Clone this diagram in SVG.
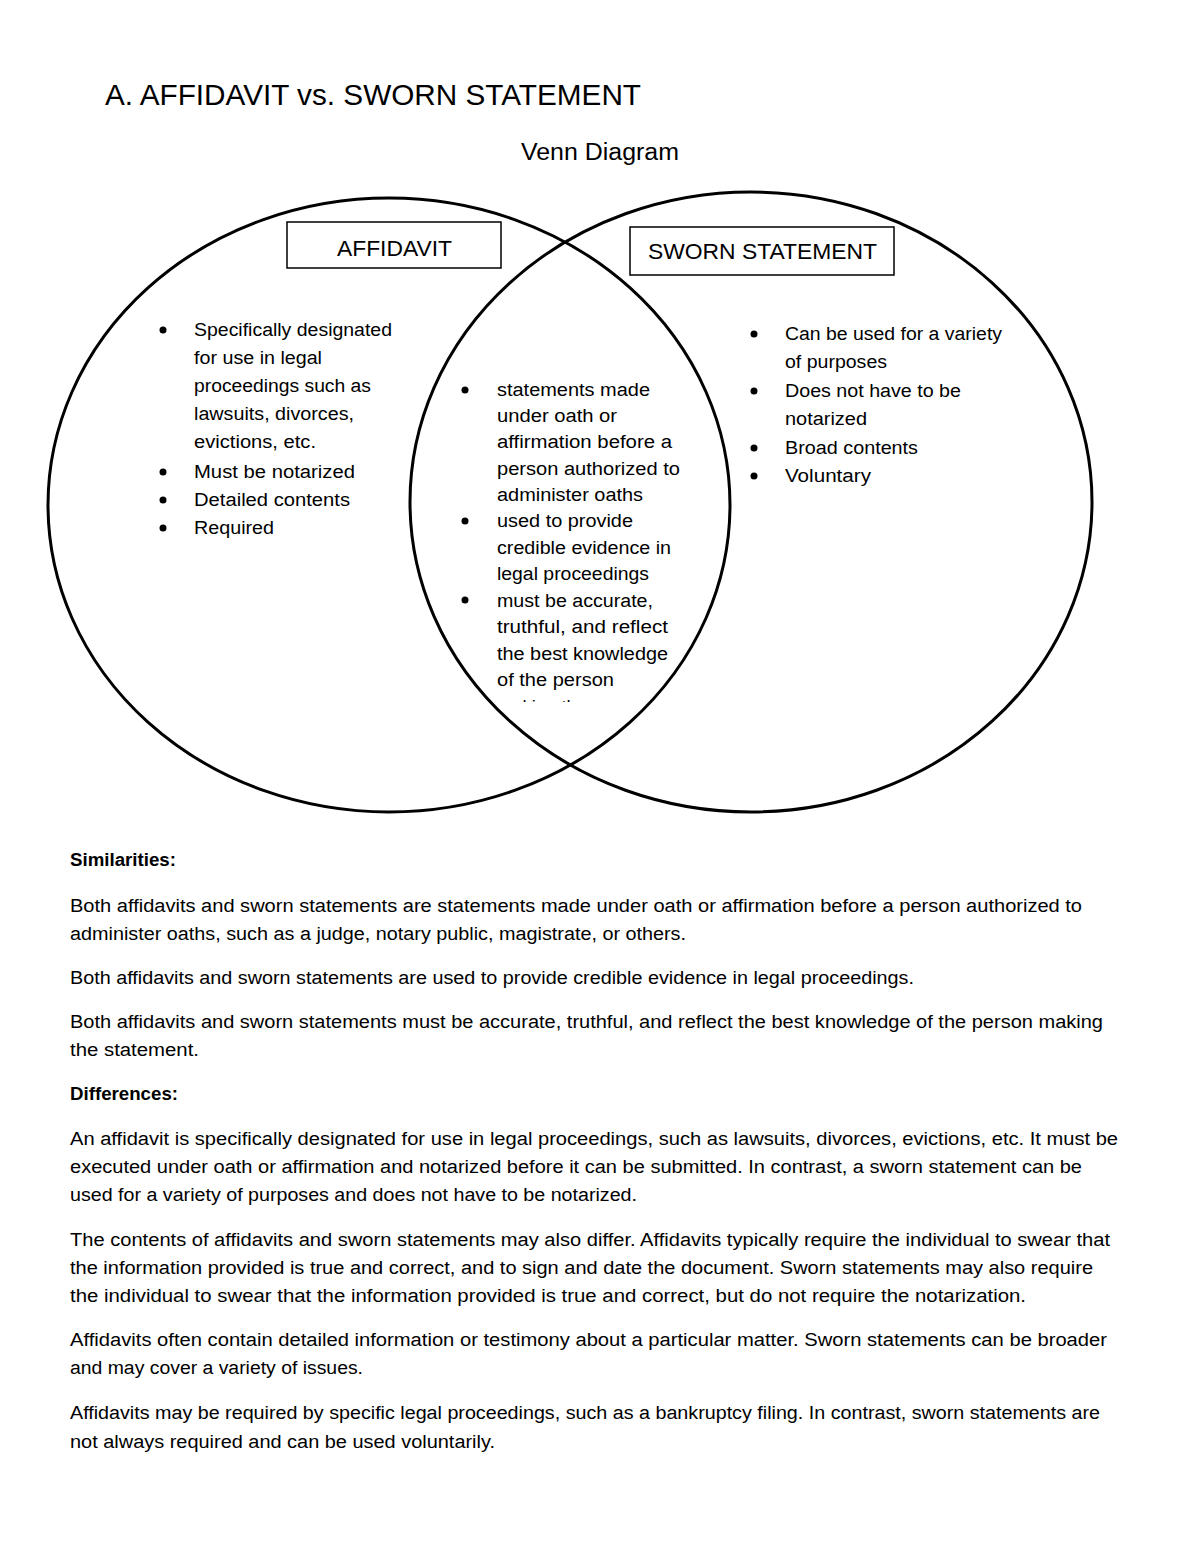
<svg xmlns="http://www.w3.org/2000/svg" width="1200" height="1553" viewBox="0 0 1200 1553">
<style>
text{font-family:"Liberation Sans",Arial,sans-serif;fill:#000}
.b{font-size:18px}
.c{font-size:18px}
.h{font-size:18px;font-weight:bold}
.ring{fill:none;stroke:#000;stroke-width:3}
.lbl{fill:#fff;stroke:#000;stroke-width:1.5}
.dot{fill:#000}
</style>
<defs>
<clipPath id="clipC"><rect x="480" y="370" width="220" height="332"/></clipPath>
</defs>
<rect width="1200" height="1553" fill="#fff"/>
<text x="105" y="105" font-size="30" textLength="536" lengthAdjust="spacingAndGlyphs">A. AFFIDAVIT vs. SWORN STATEMENT</text>
<text x="521" y="160" font-size="23" textLength="158" lengthAdjust="spacingAndGlyphs">Venn Diagram</text>

<g id="circle-affidavit">
<ellipse class="ring" cx="389" cy="505" rx="341" ry="307"/>
</g>
<g id="circle-sworn">
<ellipse class="ring" cx="751" cy="502" rx="341" ry="310"/>
</g>
<g id="connectors"></g>

<g id="label-affidavit">
<rect class="lbl" x="287" y="222" width="214" height="46"/>
<text x="337" y="256" font-size="22" textLength="115" lengthAdjust="spacingAndGlyphs">AFFIDAVIT</text>
</g>
<g id="label-sworn">
<rect class="lbl" x="630" y="227" width="264" height="48"/>
<text x="648" y="259" font-size="22" textLength="229" lengthAdjust="spacingAndGlyphs">SWORN STATEMENT</text>
</g>

<g id="affidavit-items">
<circle class="dot" cx="163" cy="330" r="3.5"/>
<circle class="dot" cx="163" cy="472" r="3.5"/>
<circle class="dot" cx="163" cy="500" r="3.5"/>
<circle class="dot" cx="163" cy="528" r="3.5"/>
<text class="c" x="194" y="336" textLength="198" lengthAdjust="spacingAndGlyphs">Specifically designated</text>
<text class="c" x="194" y="364" textLength="128" lengthAdjust="spacingAndGlyphs">for use in legal</text>
<text class="c" x="194" y="392" textLength="177" lengthAdjust="spacingAndGlyphs">proceedings such as</text>
<text class="c" x="194" y="420" textLength="160" lengthAdjust="spacingAndGlyphs">lawsuits, divorces,</text>
<text class="c" x="194" y="448" textLength="122" lengthAdjust="spacingAndGlyphs">evictions, etc.</text>
<text class="c" x="194" y="478" textLength="161" lengthAdjust="spacingAndGlyphs">Must be notarized</text>
<text class="c" x="194" y="506" textLength="156" lengthAdjust="spacingAndGlyphs">Detailed contents</text>
<text class="c" x="194" y="534" textLength="80" lengthAdjust="spacingAndGlyphs">Required</text>
</g>

<g id="common-items">
<circle class="dot" cx="465" cy="390" r="3.5"/>
<circle class="dot" cx="465" cy="521" r="3.5"/>
<circle class="dot" cx="465" cy="600" r="3.5"/>
<g clip-path="url(#clipC)">
<text class="c" x="497" y="396" textLength="153" lengthAdjust="spacingAndGlyphs">statements made</text>
<text class="c" x="497" y="422" textLength="120" lengthAdjust="spacingAndGlyphs">under oath or</text>
<text class="c" x="497" y="448" textLength="175" lengthAdjust="spacingAndGlyphs">affirmation before a</text>
<text class="c" x="497" y="475" textLength="183" lengthAdjust="spacingAndGlyphs">person authorized to</text>
<text class="c" x="497" y="501" textLength="146" lengthAdjust="spacingAndGlyphs">administer oaths</text>
<text class="c" x="497" y="527" textLength="136" lengthAdjust="spacingAndGlyphs">used to provide</text>
<text class="c" x="497" y="554" textLength="174" lengthAdjust="spacingAndGlyphs">credible evidence in</text>
<text class="c" x="497" y="580" textLength="152" lengthAdjust="spacingAndGlyphs">legal proceedings</text>
<text class="c" x="497" y="607" textLength="156" lengthAdjust="spacingAndGlyphs">must be accurate,</text>
<text class="c" x="497" y="633" textLength="171" lengthAdjust="spacingAndGlyphs">truthful, and reflect</text>
<text class="c" x="497" y="660" textLength="171" lengthAdjust="spacingAndGlyphs">the best knowledge</text>
<text class="c" x="497" y="686" textLength="117" lengthAdjust="spacingAndGlyphs">of the person</text>
<text class="c" x="497" y="713" textLength="90" lengthAdjust="spacingAndGlyphs">making the</text>
</g>
</g>

<g id="sworn-items">
<circle class="dot" cx="754" cy="334" r="3.5"/>
<circle class="dot" cx="754" cy="391" r="3.5"/>
<circle class="dot" cx="754" cy="448" r="3.5"/>
<circle class="dot" cx="754" cy="476" r="3.5"/>
<text class="c" x="785" y="340" textLength="217" lengthAdjust="spacingAndGlyphs">Can be used for a variety</text>
<text class="c" x="785" y="368" textLength="102" lengthAdjust="spacingAndGlyphs">of purposes</text>
<text class="c" x="785" y="397" textLength="176" lengthAdjust="spacingAndGlyphs">Does not have to be</text>
<text class="c" x="785" y="425" textLength="82" lengthAdjust="spacingAndGlyphs">notarized</text>
<text class="c" x="785" y="454" textLength="133" lengthAdjust="spacingAndGlyphs">Broad contents</text>
<text class="c" x="785" y="482" textLength="86" lengthAdjust="spacingAndGlyphs">Voluntary</text>
</g>

<g id="body-text">
<text class="h" x="70" y="866" textLength="106" lengthAdjust="spacingAndGlyphs">Similarities:</text>
<text class="b" x="70" y="912" textLength="1012" lengthAdjust="spacingAndGlyphs">Both affidavits and sworn statements are statements made under oath or affirmation before a person authorized to</text>
<text class="b" x="70" y="940" textLength="616" lengthAdjust="spacingAndGlyphs">administer oaths, such as a judge, notary public, magistrate, or others.</text>
<text class="b" x="70" y="984" textLength="844" lengthAdjust="spacingAndGlyphs">Both affidavits and sworn statements are used to provide credible evidence in legal proceedings.</text>
<text class="b" x="70" y="1028" textLength="1033" lengthAdjust="spacingAndGlyphs">Both affidavits and sworn statements must be accurate, truthful, and reflect the best knowledge of the person making</text>
<text class="b" x="70" y="1056" textLength="129" lengthAdjust="spacingAndGlyphs">the statement.</text>
<text class="h" x="70" y="1100" textLength="108" lengthAdjust="spacingAndGlyphs">Differences:</text>
<text class="b" x="70" y="1145" textLength="1048" lengthAdjust="spacingAndGlyphs">An affidavit is specifically designated for use in legal proceedings, such as lawsuits, divorces, evictions, etc. It must be</text>
<text class="b" x="70" y="1173" textLength="1012" lengthAdjust="spacingAndGlyphs">executed under oath or affirmation and notarized before it can be submitted. In contrast, a sworn statement can be</text>
<text class="b" x="70" y="1201" textLength="567" lengthAdjust="spacingAndGlyphs">used for a variety of purposes and does not have to be notarized.</text>
<text class="b" x="70" y="1246" textLength="1040" lengthAdjust="spacingAndGlyphs">The contents of affidavits and sworn statements may also differ. Affidavits typically require the individual to swear that</text>
<text class="b" x="70" y="1274" textLength="1023" lengthAdjust="spacingAndGlyphs">the information provided is true and correct, and to sign and date the document. Sworn statements may also require</text>
<text class="b" x="70" y="1302" textLength="956" lengthAdjust="spacingAndGlyphs">the individual to swear that the information provided is true and correct, but do not require the notarization.</text>
<text class="b" x="70" y="1346" textLength="1037" lengthAdjust="spacingAndGlyphs">Affidavits often contain detailed information or testimony about a particular matter. Sworn statements can be broader</text>
<text class="b" x="70" y="1374" textLength="293" lengthAdjust="spacingAndGlyphs">and may cover a variety of issues.</text>
<text class="b" x="70" y="1419" textLength="1030" lengthAdjust="spacingAndGlyphs">Affidavits may be required by specific legal proceedings, such as a bankruptcy filing. In contrast, sworn statements are</text>
<text class="b" x="70" y="1448" textLength="425" lengthAdjust="spacingAndGlyphs">not always required and can be used voluntarily.</text>
</g>
</svg>
